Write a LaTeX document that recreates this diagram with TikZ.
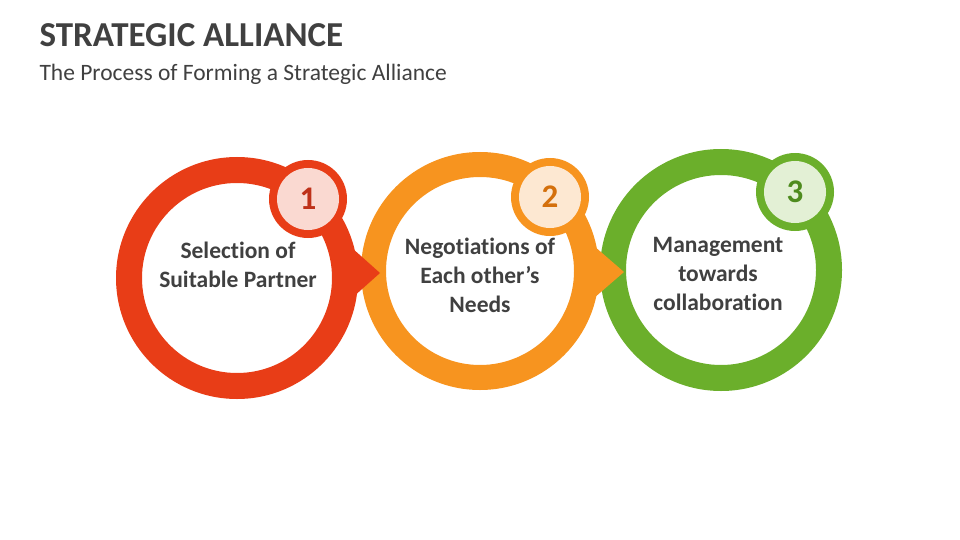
\documentclass[tikz,border=0pt]{standalone}
\usepackage{fontspec}
\setmainfont{Carlito}[Ligatures=NoCommon]
\begin{document}
\begin{tikzpicture}[x=1pt,y=-1pt]
\definecolor{cr}{HTML}{E83D17}\definecolor{co}{HTML}{F7941F}\definecolor{cg}{HTML}{6BAF2B}
\definecolor{lr}{HTML}{FAD9D1}\definecolor{lo}{HTML}{FDE8D2}\definecolor{lg}{HTML}{E3F0D5}
\definecolor{nr}{HTML}{BE3119}\definecolor{no}{HTML}{D4700C}\definecolor{ng}{HTML}{4E8B1E}
\definecolor{tx}{HTML}{404040}
\tikzset{lbl/.style={text=tx,font=\bfseries\fontsize{23.5}{29}\selectfont,align=center},
num/.style={font=\bfseries\fontsize{33}{33}\selectfont}}
\useasboundingbox (0,0) rectangle (960,540);
\node[anchor=west,text=tx,font=\bfseries\fontsize{35}{35}\selectfont] (t) at (36,35) {STRATEGIC ALLIANCE};
\node[anchor=west,text=tx,font=\fontsize{23.5}{23.5}\selectfont] (s) at (36,74) {The Process of Forming a Strategic Alliance};
% green
\fill[cg,even odd rule] (721,270) circle (121) (721,270) circle (95);
\fill[cg] (795,192) circle (39); \fill[lg] (795,192) circle (31);
\node[num,text=ng] (n3) at (795,192) {3};
% orange
\fill[co,even odd rule] (480,271) circle (119) (480,271) circle (94);
\fill[co] (594,246) -- (624,272) -- (594,298) -- cycle;
\fill[co] (550,197) circle (39); \fill[lo] (550,197) circle (31);
\node[num,text=no] (n2) at (550,197) {2};
% red
\fill[cr,even odd rule] (237,278) circle (121) (237,278) circle (95);
\fill[cr] (352,248) -- (380,273) -- (352,298) -- cycle;
\fill[cr] (308,199) circle (39); \fill[lr] (308,199) circle (31);
\node[num,text=nr] (n1) at (308,199) {1};
\node[lbl] (a) at (238,265) {Selection of\\Suitable Partner};
\node[lbl] (b) at (480,275) {Negotiations of\\Each other’s\\Needs};
\node[lbl] (c) at (718,274) {Management\\towards\\collaboration};
\end{tikzpicture}
\end{document}
